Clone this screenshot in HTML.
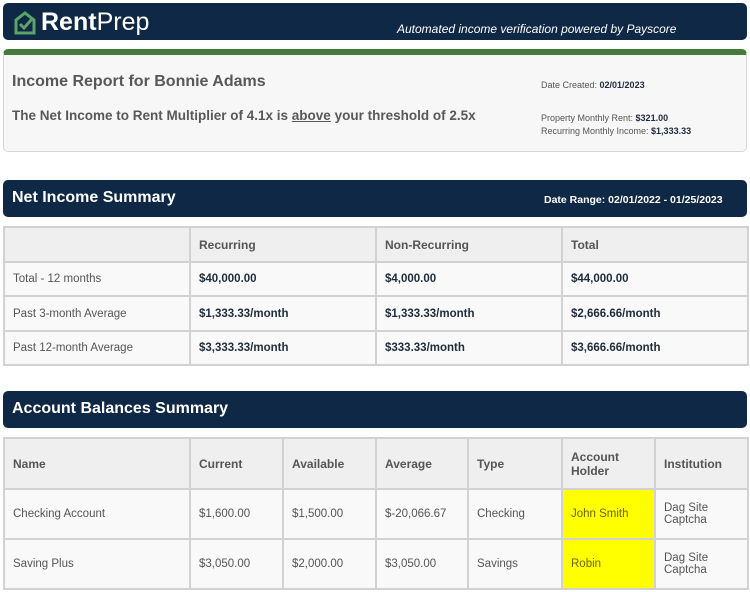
<!DOCTYPE html>
<html><head><meta charset="utf-8"><style>
*{box-sizing:border-box;margin:0;padding:0}
body{width:750px;height:592px;background:#fff;font-family:"Liberation Sans",sans-serif;position:relative;overflow:hidden;color:#555}
.a{position:absolute}
.bar{position:absolute;left:3px;width:744px;background:#0f2846;border-radius:5px;color:#fff}
table{position:absolute;left:3px;width:744px;border-collapse:collapse;table-layout:fixed}
td{border:2px solid #d2d2d2;font-size:11.5px;padding:0 0 0 8px;color:#555;background:#f9f9f9}
tr.h td{background:#efefef;font-weight:bold;font-size:12px}
b{color:#1f2c3c}
.y{background:#ffff00 !important;color:#6b6400}
</style></head><body>
<div class="bar" style="top:3px;height:37px">
  <svg class="a" style="left:10px;top:8px" width="24" height="24" viewBox="0 0 24 24"><path d="M3 22V9L12 2l9 7v13z" fill="none" stroke="#5aa468" stroke-width="3"/><path d="M7 13l4 4 8-9" fill="none" stroke="#5aa468" stroke-width="3"/></svg>
  <div class="a" style="left:38px;top:5px;font-size:25px;line-height:28px"><b style="color:#fff">Rent</b>Prep</div>
  <div class="a" style="left:394px;top:19px;font-size:12px;font-style:italic">Automated income verification powered by Payscore</div>
</div>
<div class="a" style="left:3px;top:49px;width:744px;height:103px;background:#f7f7f7;border:1px solid #d6d6d6;border-top:6px solid #447a3c;border-radius:5px"></div>
<div class="a" style="left:12px;top:73px;font-size:16px;font-weight:bold;color:#585858">Income Report for Bonnie Adams</div>
<div class="a" style="left:12px;top:108px;font-size:13.5px;font-weight:bold;color:#585858">The Net Income to Rent Multiplier of 4.1x is <u>above</u> your threshold of 2.5x</div>
<div class="a" style="left:541px;top:80px;font-size:9px">Date Created: <b>02/01/2023</b></div>
<div class="a" style="left:541px;top:112px;font-size:9px;line-height:13px">Property Monthly Rent: <b>$321.00</b><br>Recurring Monthly Income: <b>$1,333.33</b></div>
<div class="bar" style="top:180px;height:37px">
  <div class="a" style="left:9px;top:9px;font-size:16px;font-weight:bold">Net Income Summary</div>
  <div class="a" style="left:541px;top:14px;font-size:10.5px;font-weight:bold">Date Range: 02/01/2022 - 01/25/2023</div>
</div>
<table style="top:226px">
<colgroup><col style="width:186px"><col style="width:186px"><col style="width:186px"><col style="width:186px"></colgroup>
<tr class="h" style="height:35px"><td></td><td>Recurring</td><td>Non-Recurring</td><td>Total</td></tr>
<tr style="height:34px"><td>Total - 12 months</td><td><b>$40,000.00</b></td><td><b>$4,000.00</b></td><td><b>$44,000.00</b></td></tr>
<tr style="height:35px"><td>Past 3-month Average</td><td><b>$1,333.33/month</b></td><td><b>$1,333.33/month</b></td><td><b>$2,666.66/month</b></td></tr>
<tr style="height:34px"><td>Past 12-month Average</td><td><b>$3,333.33/month</b></td><td><b>$333.33/month</b></td><td><b>$3,666.66/month</b></td></tr>
</table>
<div class="bar" style="top:391px;height:37px">
  <div class="a" style="left:9px;top:9px;font-size:16px;font-weight:bold">Account Balances Summary</div>
</div>
<table style="top:437px">
<colgroup><col style="width:186px"><col style="width:93px"><col style="width:93px"><col style="width:92px"><col style="width:94px"><col style="width:93px"><col style="width:93px"></colgroup>
<tr class="h" style="height:51px"><td>Name</td><td>Current</td><td>Available</td><td>Average</td><td>Type</td><td>Account<br>Holder</td><td>Institution</td></tr>
<tr style="height:50px"><td>Checking Account</td><td>$1,600.00</td><td>$1,500.00</td><td>$-20,066.67</td><td>Checking</td><td class="y">John Smith</td><td>Dag Site<br>Captcha</td></tr>
<tr style="height:50px"><td>Saving Plus</td><td>$3,050.00</td><td>$2,000.00</td><td>$3,050.00</td><td>Savings</td><td class="y">Robin</td><td>Dag Site<br>Captcha</td></tr>
</table>
</body></html>
